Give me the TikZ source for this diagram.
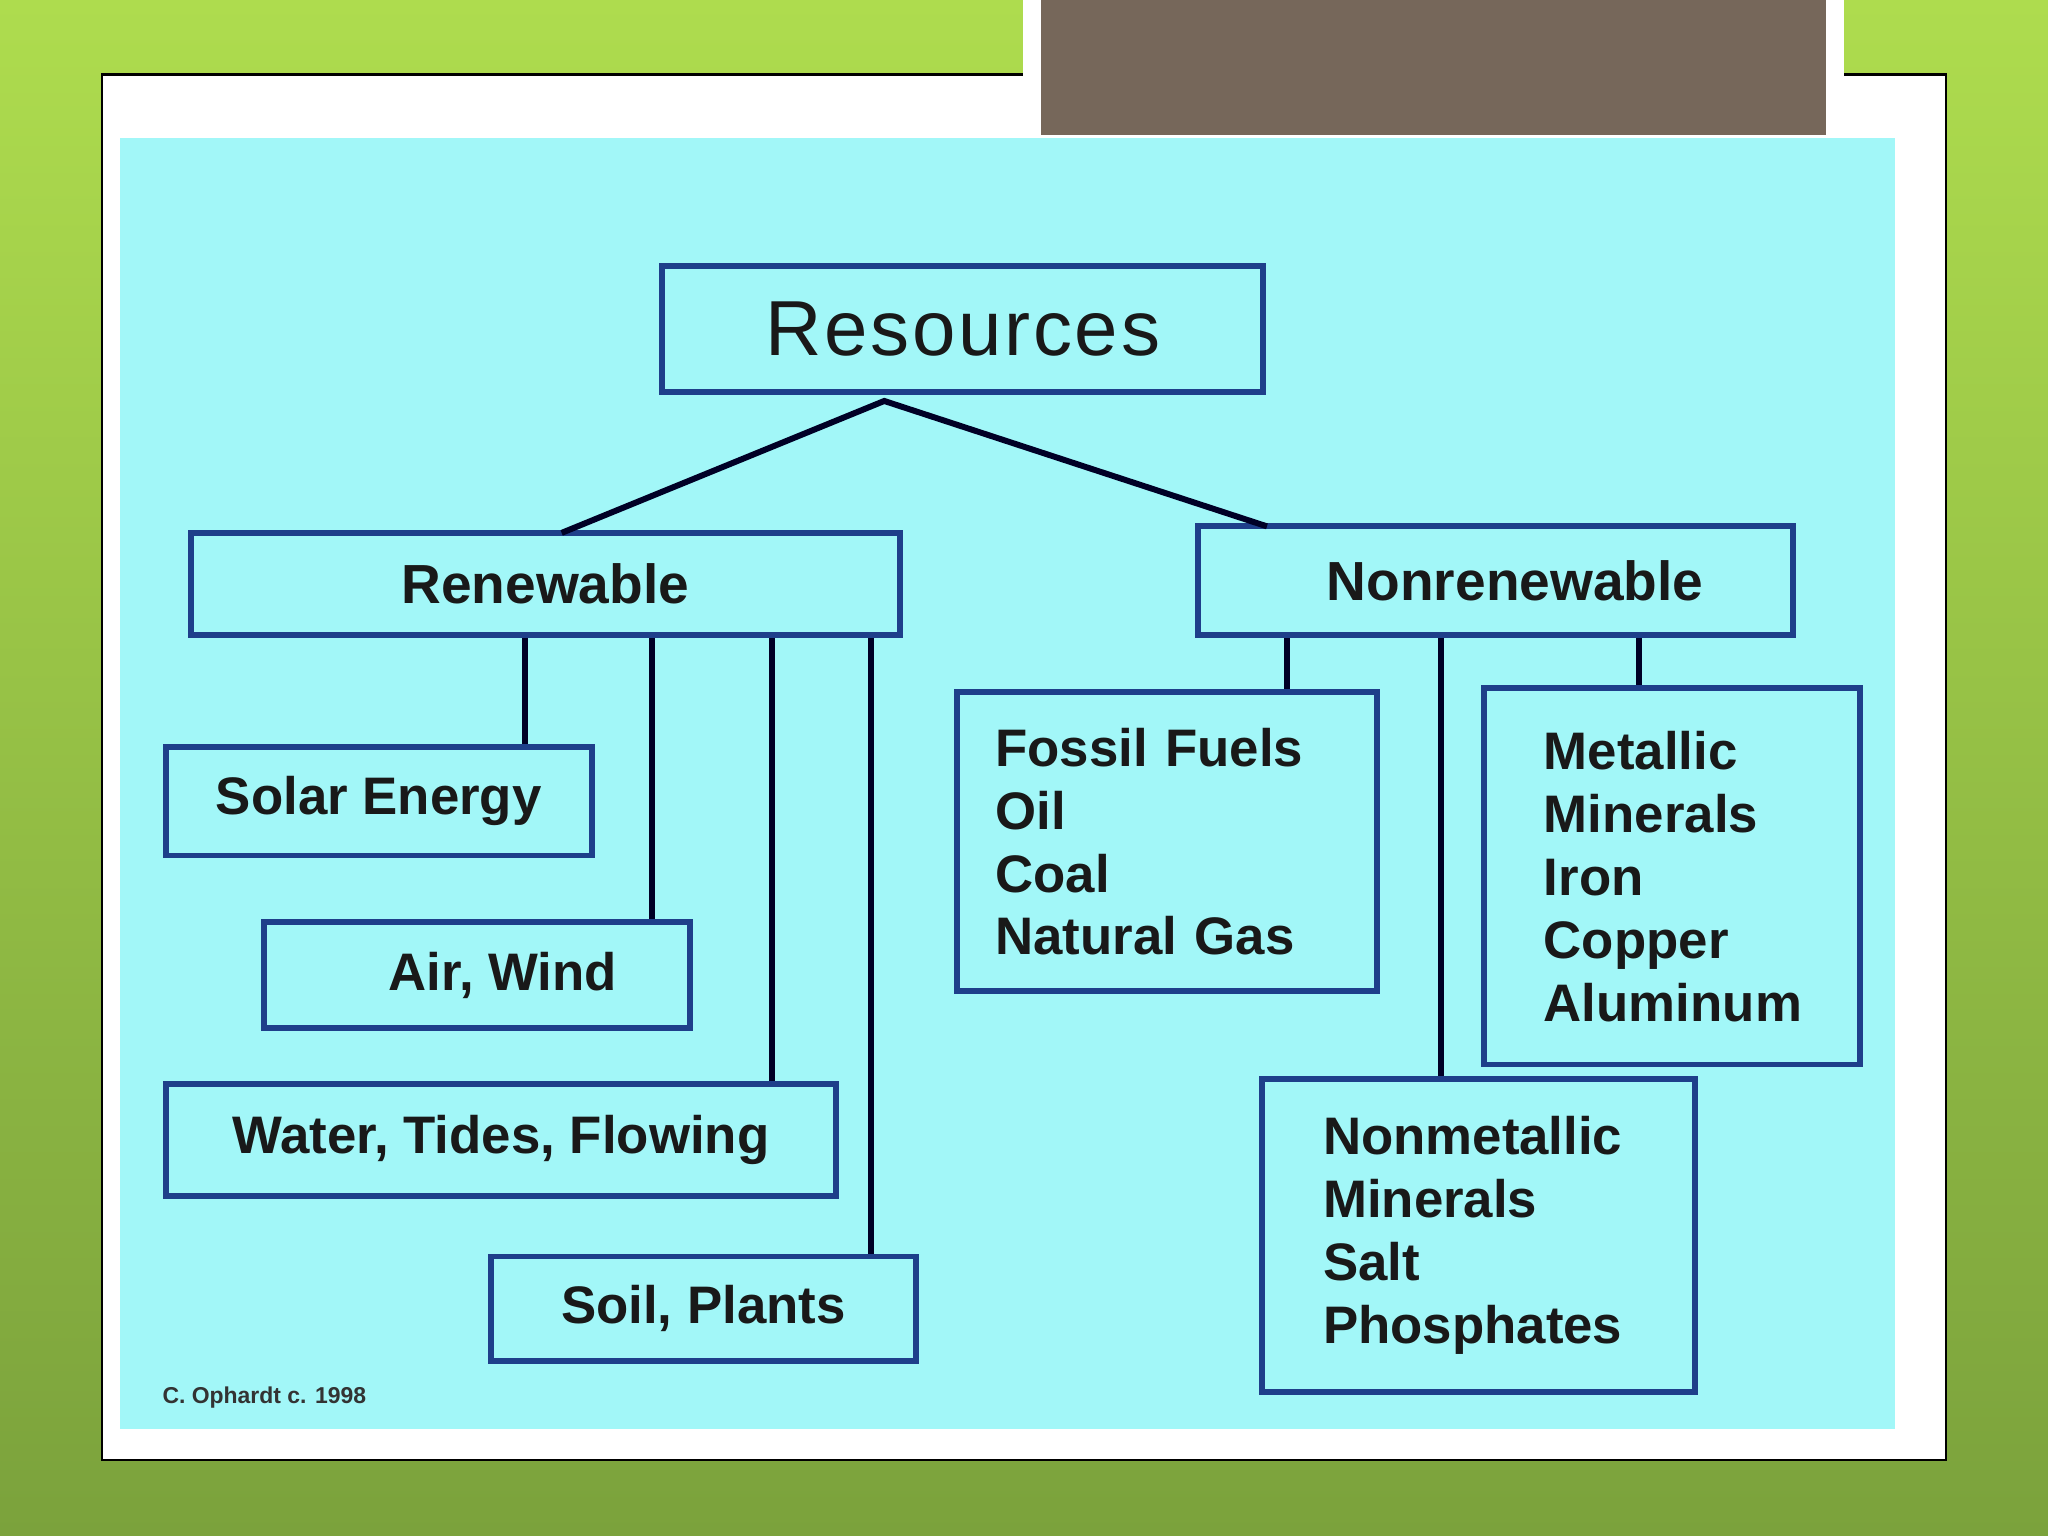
\documentclass[tikz,border=0pt]{standalone}
\usepackage{fontspec}
\setmainfont{Liberation Sans}
\hyphenpenalty=10000
\begin{document}
\begin{tikzpicture}[
  bx/.style={draw=boxblue, line width=1.3pt, inner sep=0pt, font=\fontsize{11.5}{13.7}\selectfont\bfseries, text=black!90},
  ml/.style={bx, align=left},
  ln/.style={draw=black!85!blue, line width=1.3pt}]
\definecolor{boxblue}{HTML}{1E3F8A}
\definecolor{cyanbg}{HTML}{A2F7F8}
\definecolor{brownbox}{HTML}{76675A}
\definecolor{gtop}{HTML}{AEDC4E}
\definecolor{gbot}{HTML}{7BA23C}
\useasboundingbox (0,0) rectangle (15.68,-11.76);
\shade[top color=gtop, bottom color=gbot] (0,0) rectangle (15.68,-11.76);
\fill[white, draw=black, line width=0.5pt] (0.78,-0.57) rectangle (14.90,-11.18);
\fill[white] (7.83,0) rectangle (14.12,-1.05);
\fill[brownbox] (7.97,0) rectangle (13.98,-1.03);
\fill[cyanbg] (0.92,-1.06) rectangle (14.51,-10.94);
% nodes
\node[bx, minimum width=4.60cm, minimum height=0.96cm, font=\fontsize{17}{18}\selectfont] (res) at (7.37,-2.52) {R\kern0.6pt e\kern0.6pt s\kern0.6pt o\kern0.6pt u\kern0.6pt r\kern0.6pt c\kern0.6pt e\kern0.6pt s};
\node[bx, minimum width=5.43cm, minimum height=0.78cm, font=\fontsize{12}{13}\selectfont\bfseries] (ren) at (4.175,-4.47) {Renewable};
\node[bx, minimum width=4.56cm, minimum height=0.83cm, font=\fontsize{12}{13}\selectfont\bfseries] (non) at (11.45,-4.445) {\hspace{0.3cm}Nonrenewable};
\node[bx, minimum width=3.26cm, minimum height=0.83cm] (sol) at (2.90,-6.135) {Solar Energy};
\node[bx, minimum width=3.26cm, minimum height=0.81cm] (air) at (3.65,-7.465) {\hspace{0.4cm}Air, Wind};
\node[bx, minimum width=5.13cm, minimum height=0.86cm] (wat) at (3.835,-8.73) {Water, Tides, Flowing};
\node[bx, minimum width=3.25cm, minimum height=0.80cm] (soil) at (5.385,-10.02) {Soil, Plants};
\node[ml, minimum width=3.21cm, minimum height=2.29cm, text width=2.63cm] (fos) at (8.935,-6.445) {Fossil Fuels\\Oil\\Coal\\Natural Gas};
\node[ml, minimum width=2.88cm, minimum height=2.88cm, text width=1.96cm] (met) at (12.80,-6.71) {Metallic\\Minerals\\Iron\\Copper\\Aluminum};
\node[ml, minimum width=3.32cm, minimum height=2.40cm, text width=2.38cm] (nmet) at (11.32,-9.46) {Nonmetallic\\Minerals\\Salt\\Phosphates};
\node[font=\fontsize{5}{6}\selectfont\bfseries, text=black!80, anchor=west] (cr) at (1.12,-10.70) {C. Ophardt c. 1998};
% connectors
\coordinate (apex) at (6.77,-3.07);
\coordinate (xa) at (4.02,0); \coordinate (xb) at (4.99,0);
\coordinate (xc) at (5.91,0); \coordinate (xd) at (6.67,0);
\coordinate (xe) at (9.85,0); \coordinate (xf) at (11.03,0);
\coordinate (xg) at (12.55,0);
\coordinate (rl) at (4.30,-4.08); \coordinate (rr) at (9.70,-4.03);
\draw[ln] (rl) -- (apex) -- (rr);
\draw[ln] (ren.south -| xa) -- (sol.north -| xa);
\draw[ln] (ren.south -| xb) -- (air.north -| xb);
\draw[ln] (ren.south -| xc) -- (wat.north -| xc);
\draw[ln] (ren.south -| xd) -- (soil.north -| xd);
\draw[ln] (non.south -| xe) -- (fos.north -| xe);
\draw[ln] (non.south -| xf) -- (nmet.north -| xf);
\draw[ln] (non.south -| xg) -- (met.north -| xg);
\end{tikzpicture}
\end{document}
